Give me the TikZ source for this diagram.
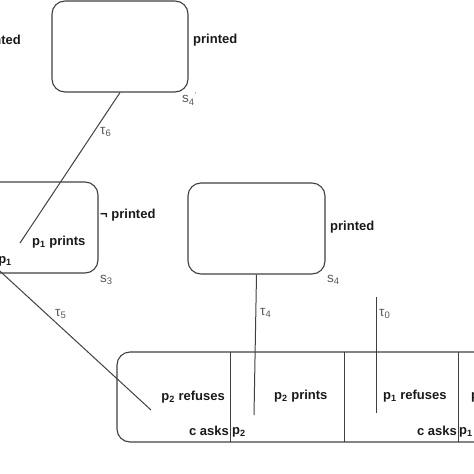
\documentclass[tikz,border=0pt]{standalone}
\usepackage{fontspec}
\setmainfont{Liberation Sans}
\newcommand\sbs[1]{\textsubscript{#1}}
\begin{document}
\begin{tikzpicture}[x=1pt,y=-1pt,
  st/.style={draw=black!75, line width=1.1pt, rounded corners=13pt, inner sep=0pt},
  conn/.style={draw=black!75, line width=1pt},
  bt/.style={font=\fontsize{13}{15}\selectfont\bfseries, inner sep=0pt, text=black!90},
  lb/.style={font=\fontsize{13.5}{15}\selectfont, inner sep=0pt, text=black!65}]
\useasboundingbox (0,0) rectangle (474,474);
\clip (0,0) rectangle (474,474);
% states
\node[st, minimum width=136pt, minimum height=91pt] (s4p) at (120,46.5) {};
\node[st, minimum width=138pt, minimum height=91pt] (s3) at (29,227.5) {};
\node[st, minimum width=137pt, minimum height=91pt] (s4) at (256.5,228.5) {};
\node[st, minimum width=483pt, minimum height=90pt] (s0) at (358.5,397) {};
% dividers
\coordinate (d1t) at (230,352); \coordinate (d1b) at (230,442);
\coordinate (d2t) at (344,352); \coordinate (d2b) at (344,442);
\coordinate (d3t) at (458,352); \coordinate (d3b) at (458,442);
\draw[conn] (d1t) -- (d1b);
\draw[conn] (d2t) -- (d2b);
\draw[conn] (d3t) -- (d3b);
% transitions
\coordinate (e6) at (20,243);
\coordinate (b5) at (-10,262);
\coordinate (e5) at (151,410);
\coordinate (e4) at (254,415);
\coordinate (b0) at (376,297);
\coordinate (e0) at (376,413);
\draw[conn] (s4p.south) -- (e6);
\draw[conn] (b5) -- (e5);
\draw[conn] (s4.south) -- (e4);
\draw[conn] (b0) -- (e0);
% labels
\node[lb, anchor=west] (t6) at (100,132) {τ\sbs{6}};
\node[lb, anchor=west] (t5) at (55,314) {τ\sbs{5}};
\node[lb, anchor=west] (t4) at (260,313) {τ\sbs{4}};
\node[lb, anchor=west] (t0) at (379,314) {τ\sbs{0}};
\node[lb, anchor=west] (l4p) at (182,99) {s\sbs{4}\textsuperscript{\fontsize{7}{7}\selectfont '}};
\node[lb, anchor=west] (l3) at (100,280) {s\sbs{3}};
\node[lb, anchor=west] (l4) at (327,280) {s\sbs{4}};
% texts
\node[bt, anchor=east] (a1) at (21,41) {printed};
\node[bt, anchor=west] (a2) at (193,40) {printed};
\node[bt, anchor=west] (a3) at (100,215) {¬ printed};
\node[bt, anchor=west] (a4) at (32,242) {p\sbs{1} prints};
\node[bt, anchor=east] (a5) at (12,261) {p\sbs{1}};
\node[bt, anchor=west] (a6) at (330,227) {printed};
\node[bt, anchor=east] (b1) at (225,397) {p\sbs{2} refuses};
\node[bt, anchor=east] (b2) at (229,431) {c asks};
\node[bt, anchor=west] (b3) at (232,432) {p\sbs{2}};
\node[bt, anchor=west] (b4) at (274,396) {p\sbs{2} prints};
\node[bt, anchor=west] (b5t) at (383,396) {p\sbs{1} refuses};
\node[bt, anchor=east] (b6) at (457,431) {c asks};
\node[bt, anchor=west] (b7) at (459,432) {p\sbs{1}};
\node[bt, anchor=west] (b8) at (471,396) {p\sbs{1} prints};
\end{tikzpicture}
\end{document}
